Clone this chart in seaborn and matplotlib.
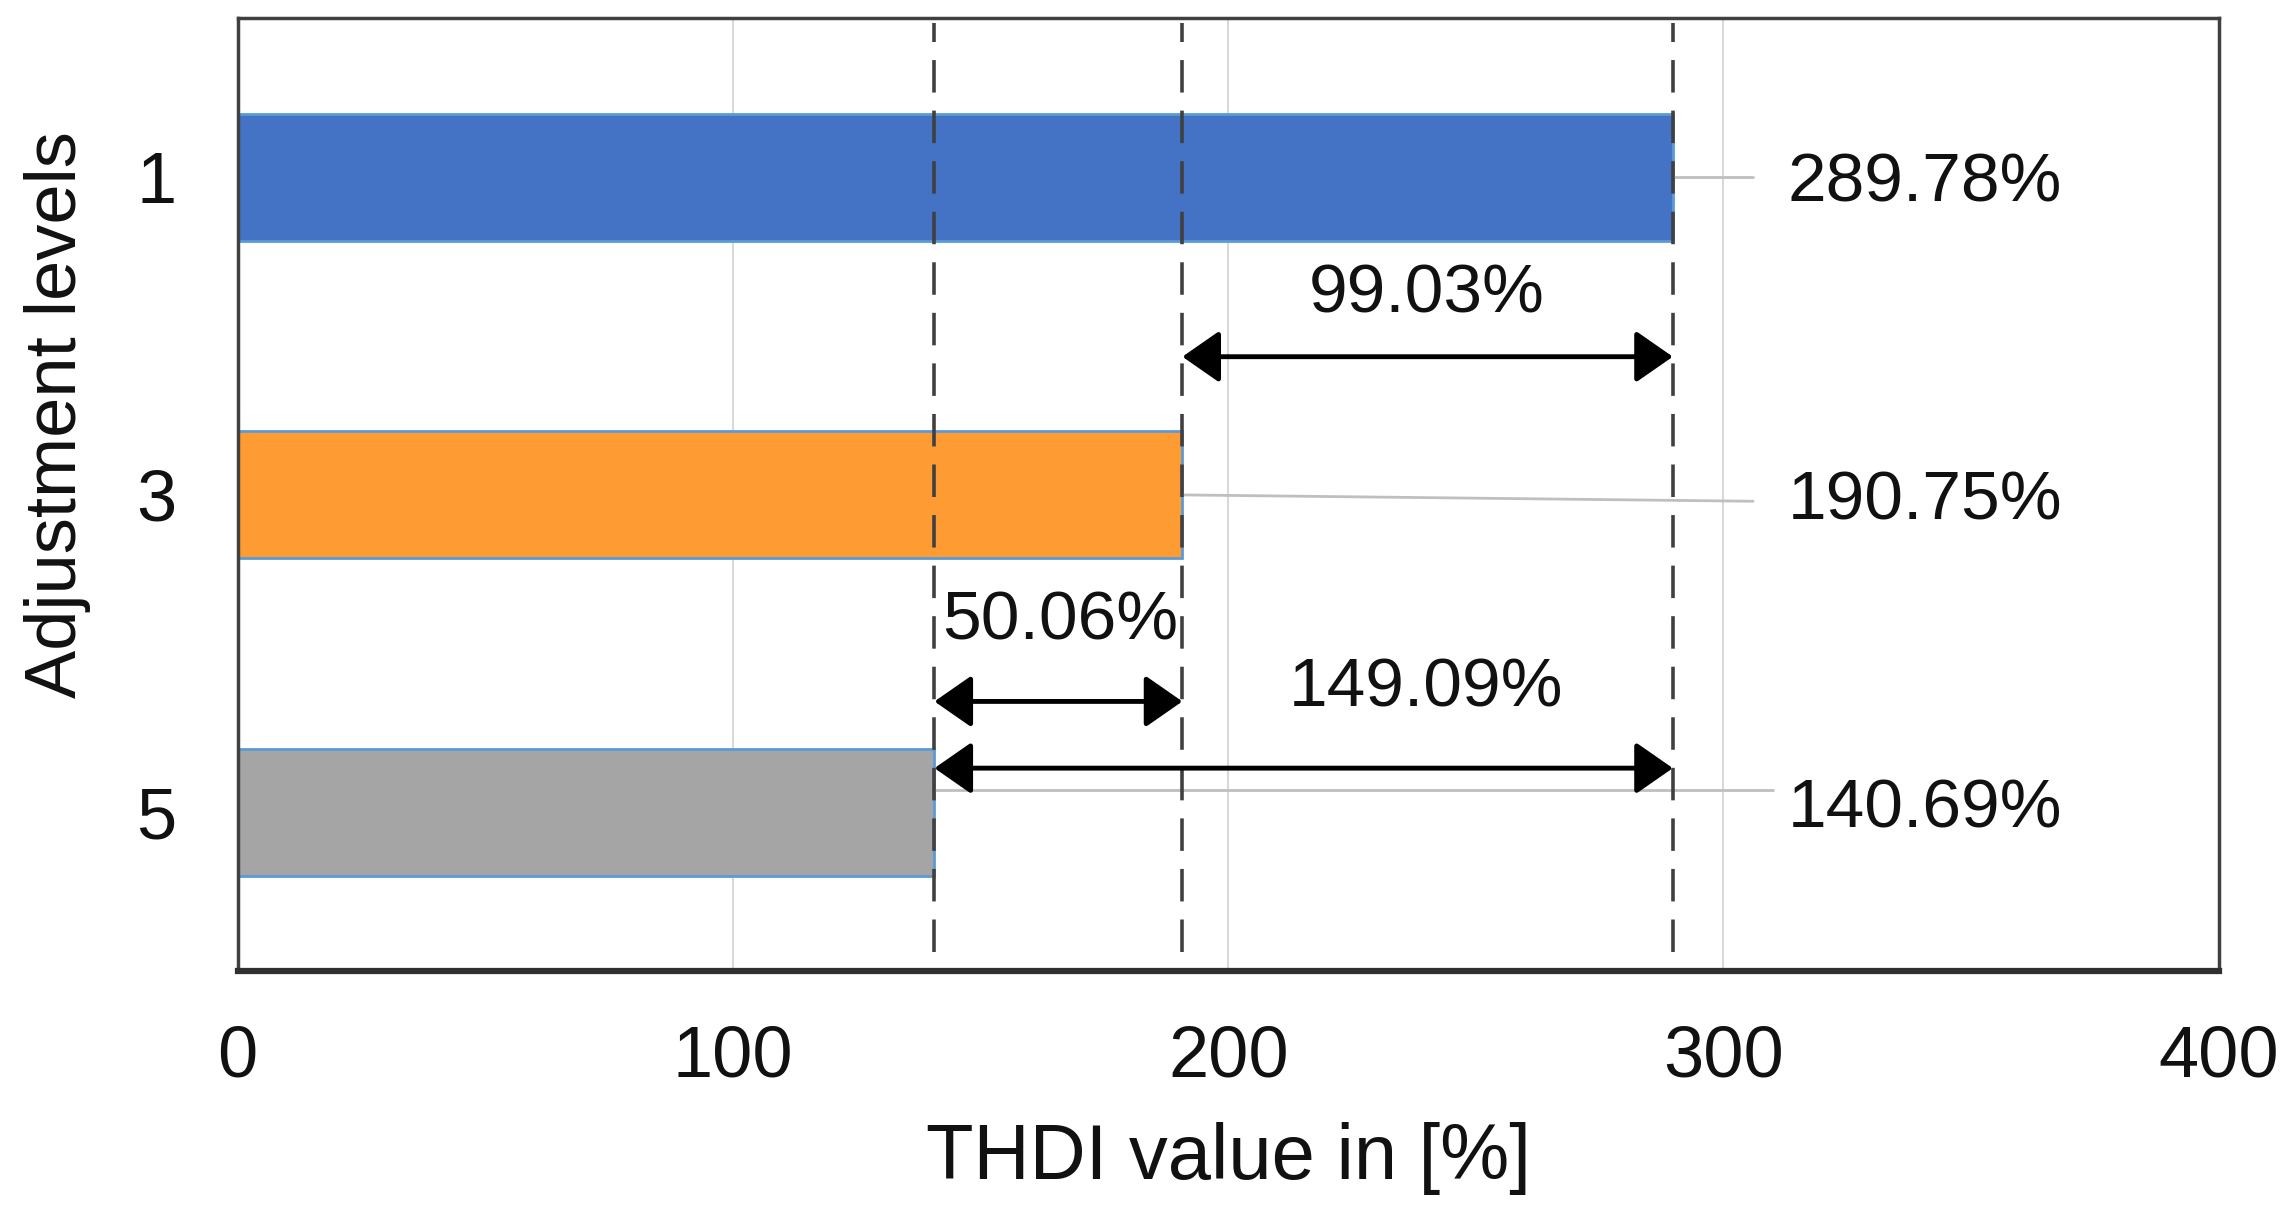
import matplotlib
matplotlib.use("Agg")
import matplotlib.pyplot as plt
from matplotlib import font_manager
import seaborn as sns
import pandas as pd

# data
levels = ["1", "3", "5"]
thdi = [289.78, 190.75, 140.69]
bar_colors = ["#4472C4", "#FF9B33", "#A5A5A5"]
value_labels = ["289.78%", "190.75%", "140.69%"]
diff_labels = ["99.03%", "50.06%", "149.09%"]
xticks = [0, 100, 200, 300, 400]


def main():
    sns.set_style("white")
    names = {f.name for f in font_manager.fontManager.ttflist}
    narrow = "Liberation Sans Narrow" if "Liberation Sans Narrow" in names else "Liberation Sans"
    plt.rcParams["font.family"] = ["Liberation Sans", "DejaVu Sans"]
    plt.rcParams["text.color"] = "#111111"

    df = pd.DataFrame({"level": levels, "thdi": thdi})

    fig = plt.figure(figsize=(22.85, 12.22), dpi=100)
    ax = fig.add_axes([0.104, 0.205, 0.867, 0.780])

    sns.barplot(data=df, x="thdi", y="level", hue="level", palette=bar_colors,
                orient="h", width=0.4, legend=False, ax=ax, saturation=1,
                edgecolor="#5B9BD5", linewidth=2)

    ax.set_xlim(0, 400)
    ax.set_ylim(2.5, -0.5)
    ax.set_xticks(xticks)
    ax.grid(axis="x", color="#D9D9D9", lw=1.5)
    ax.set_axisbelow(True)

    for sp in ["left", "top", "right"]:
        ax.spines[sp].set_color("#404040")
        ax.spines[sp].set_linewidth(2.5)
    ax.spines["bottom"].set_color("#303030")
    ax.spines["bottom"].set_linewidth(4.5)

    ax.tick_params(length=0, labelcolor="#111111")
    ax.tick_params(axis="x", pad=38)
    ax.tick_params(axis="y", pad=44)
    for lab in ax.get_xticklabels() + ax.get_yticklabels():
        lab.set_fontfamily(narrow)
        lab.set_fontsize(52)

    ax.set_xlabel("THDI value in [%]", fontsize=56, labelpad=22, color="#111111")
    ax.set_ylabel("Adjustment levels", fontsize=52, color="#111111")
    ax.yaxis.set_label_coords(-0.074, 0.584)

    # dashed reference lines at bar ends
    for v in thdi:
        ax.axvline(v, ymin=0.02, ymax=0.995, color="#404040", lw=2.6,
                   dashes=(9, 5), zorder=4)

    # leader lines and value labels
    lead_y = [0.0, 1.02, 1.93]
    text_y = [0.02, 1.02, 1.99]
    for i, v in enumerate(thdi):
        ax.plot([v, 306 + (i == 2) * 4], [i if i < 2 else 1.93, lead_y[i]],
                color="#BFBFBF", lw=2, zorder=3)
        ax.text(313, text_y[i], value_labels[i], fontsize=50, family=narrow,
                ha="left", va="center")

    # double arrows showing differences
    arrows = [(thdi[1], thdi[0], 0.565), (thdi[2], thdi[1], 1.65), (thdi[2], thdi[0], 1.86)]
    text_pos = [(240, 0.37), (166, 1.40), (240, 1.61)]
    for (a, b, y), (tx, ty), lab in zip(arrows, text_pos, diff_labels):
        ax.annotate("", xy=(a, y), xytext=(b, y),
                    arrowprops=dict(arrowstyle="<|-|>,head_length=0.46,head_width=0.32",
                                    mutation_scale=50, color="black", lw=3.5,
                                    shrinkA=0, shrinkB=0),
                    zorder=5)
        ax.text(tx, ty, lab, fontsize=50, family=narrow, ha="center", va="center")

    fig.savefig("out.png", dpi=100)


if __name__ == "__main__":
    main()
